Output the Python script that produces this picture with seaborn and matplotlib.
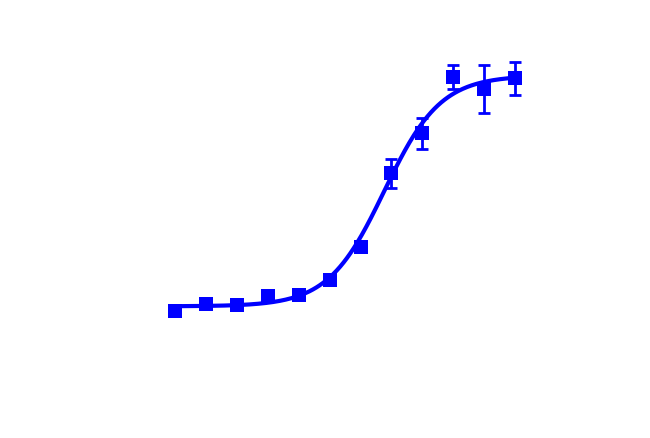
import numpy as np
import pandas as pd
import matplotlib
matplotlib.use("Agg")
import matplotlib.pyplot as plt
import seaborn as sns

# doses: 1:3 dilution series from 1e-4 M
conc = [5.65e-10, 1.69e-9, 5.08e-9, 1.52e-8, 4.57e-8, 1.37e-7,
        4.12e-7, 1.23e-6, 3.70e-6, 1.11e-5, 3.33e-5, 1.0e-4]
signal = [780, 960, 935, 1180, 1200, 1610, 2490, 4440, 5510, 7000, 6690, 6980]
err = [60, 60, 60, 80, 60, 60, 90, 380, 410, 320, 630, 440]

# four-parameter logistic fit
bottom, top, log_ec50, hill = 900, 7050, -6.02, 1.0

x_ticks = [1e-10, 1e-9, 1e-8, 1e-7, 1e-6, 1e-5, 1e-4, 1e-3]
x_ticklabels = [r"$10^{-10}$", r"$10^{-9}$", r"$10^{-8}$", r"$10^{-7}$",
                r"$10^{-6}$", r"$10^{-5}$", r"$10^{-4}$", r"$10^{-3}$"]
y_ticks = [0, 1000, 2000, 3000, 4000, 5000, 6000, 7000, 8000]

BLUE = "#0000FF"
INK = "white"

sns.set_style("white")
plt.rcParams["font.family"] = ["Liberation Sans", "DejaVu Sans"]
plt.rcParams["mathtext.fontset"] = "custom"
plt.rcParams["mathtext.rm"] = "Liberation Sans"
plt.rcParams["mathtext.it"] = "Liberation Sans"

fig = plt.figure(figsize=(6.5, 4.39), dpi=100)
ax = fig.add_axes([0.195, 0.223, 0.697, 0.684])

xs = np.logspace(np.log10(conc[0]), np.log10(conc[-1]), 300)
fit = pd.DataFrame({"x": xs,
                    "y": bottom + (top - bottom) / (1 + 10 ** ((log_ec50 - np.log10(xs)) * hill))})
sns.lineplot(data=fit, x="x", y="y", color=BLUE, linewidth=3, ax=ax)

pts = pd.DataFrame({"x": conc, "y": signal, "e": err})
ax.errorbar(pts["x"], pts["y"], yerr=pts["e"], fmt="none", ecolor=BLUE,
            elinewidth=2, capsize=4.5, capthick=2, zorder=3)
sns.scatterplot(data=pts, x="x", y="y", marker="s", s=100, color=BLUE,
                edgecolor=BLUE, linewidth=0, zorder=4, ax=ax)

ax.set_xscale("log")
ax.set_xlim(1e-10, 1e-3)
ax.set_ylim(0, 8000)
ax.set_xticks(x_ticks)
ax.set_xticklabels(x_ticklabels)
ax.minorticks_off()
ax.set_yticks(y_ticks)
ax.set_yticklabels([str(v) for v in y_ticks])
ax.tick_params(colors=INK, labelsize=15, length=5, width=1.5)

for side in ["top", "right"]:
    ax.spines[side].set_visible(False)
for side in ["left", "bottom"]:
    ax.spines[side].set_color(INK)
    ax.spines[side].set_linewidth(1.5)

ax.set_xlabel("Log [Glycoyl PA], M", color=INK, fontsize=16, labelpad=10)
ax.set_ylabel("RLU", color=INK, fontsize=16, labelpad=12)

fig.savefig("out.png", dpi=100, facecolor="white")
